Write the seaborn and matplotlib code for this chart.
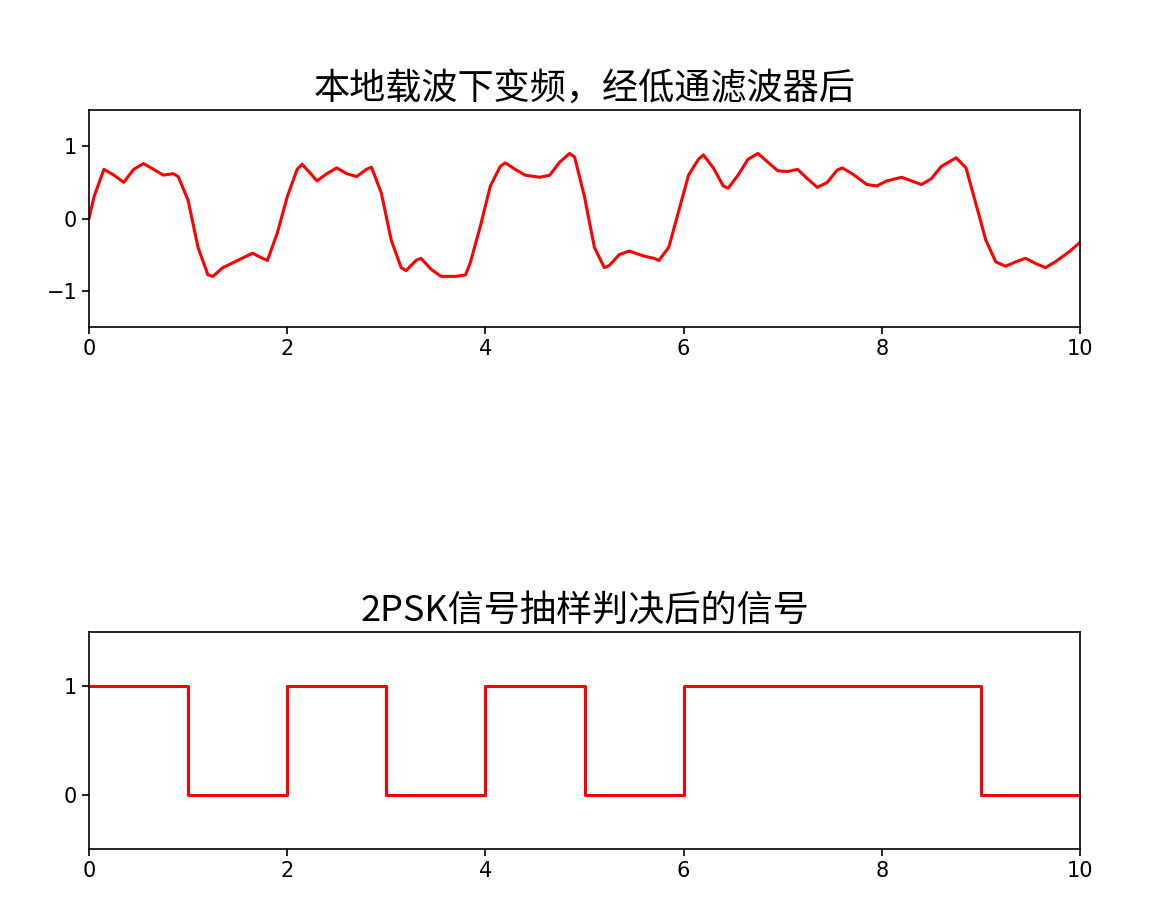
import matplotlib
matplotlib.use("Agg")
import matplotlib.pyplot as plt
import seaborn as sns

# top panel: demodulated signal after low-pass filter
t_filt = [0, 0.05, 0.15, 0.25, 0.35, 0.45, 0.55, 0.65, 0.75, 0.85, 0.9, 1.0, 1.1, 1.2, 1.25,
          1.35, 1.5, 1.65, 1.75, 1.8, 1.9, 2.0, 2.1, 2.15, 2.25, 2.3, 2.4, 2.5, 2.6, 2.7, 2.8,
          2.85, 2.95, 3.05, 3.15, 3.2, 3.3, 3.35, 3.45, 3.55, 3.7, 3.8, 3.85, 3.95, 4.05, 4.15,
          4.2, 4.3, 4.4, 4.55, 4.65, 4.75, 4.85, 4.9, 5.0, 5.1, 5.2, 5.25, 5.35, 5.45, 5.6, 5.7,
          5.75, 5.85, 5.95, 6.05, 6.15, 6.2, 6.3, 6.4, 6.45, 6.55, 6.65, 6.75, 6.85, 6.95, 7.05,
          7.15, 7.25, 7.35, 7.45, 7.55, 7.6, 7.7, 7.85, 7.95, 8.05, 8.2, 8.3, 8.4, 8.5, 8.6,
          8.75, 8.85, 8.95, 9.05, 9.15, 9.25, 9.35, 9.45, 9.55, 9.65, 9.75, 9.9, 10.0]
v_filt = [0, 0.3, 0.68, 0.6, 0.5, 0.68, 0.76, 0.68, 0.6, 0.62, 0.58, 0.25, -0.4, -0.78, -0.8,
          -0.68, -0.58, -0.48, -0.55, -0.58, -0.2, 0.3, 0.68, 0.75, 0.6, 0.52, 0.62, 0.7, 0.62,
          0.58, 0.68, 0.71, 0.35, -0.3, -0.68, -0.72, -0.58, -0.55, -0.7, -0.8, -0.8, -0.78,
          -0.6, -0.1, 0.45, 0.72, 0.77, 0.68, 0.6, 0.57, 0.6, 0.78, 0.9, 0.85, 0.3, -0.4, -0.68,
          -0.65, -0.5, -0.45, -0.52, -0.55, -0.58, -0.4, 0.1, 0.6, 0.82, 0.88, 0.7, 0.45, 0.42,
          0.6, 0.82, 0.9, 0.78, 0.66, 0.65, 0.68, 0.55, 0.43, 0.5, 0.67, 0.7, 0.62, 0.47, 0.45,
          0.52, 0.57, 0.52, 0.47, 0.55, 0.72, 0.84, 0.7, 0.2, -0.3, -0.6, -0.66, -0.6, -0.55,
          -0.62, -0.68, -0.6, -0.45, -0.33]

# bottom panel: sampled decision bits
t_bits = [0, 1, 2, 3, 4, 5, 6, 7, 8, 9, 10]
bits = [1, 0, 1, 0, 1, 0, 1, 1, 1, 0, 0]

sns.set_style("ticks", rc={'axes.edgecolor': 'black', 'xtick.color': 'black',
                           'ytick.color': 'black', 'text.color': 'black'})
plt.rcParams['font.family'] = ['DejaVu Sans']
cjk = ['Noto Sans CJK SC', 'DejaVu Sans']

fig = plt.figure(figsize=(11.52, 9.02), dpi=100)
ax1 = fig.add_axes([0.0773, 0.6375, 0.8602, 0.2405])
ax2 = fig.add_axes([0.0773, 0.0588, 0.8602, 0.2405])

sns.lineplot(x=t_filt, y=v_filt, ax=ax1, color='red', linewidth=2.2)
ax1.set_xlim(0, 10)
ax1.set_ylim(-1.5, 1.5)
ax1.set_yticks([-1, 0, 1])
ax1.set_title('本地载波下变频，经低通滤波器后', fontsize=26, family=cjk, pad=8, color='black')

ax2.step(t_bits, bits, where='post', color='red', linewidth=2.2)
ax2.set_xlim(0, 10)
ax2.set_ylim(-0.5, 1.5)
ax2.set_yticks([0, 1])
ax2.set_title('2PSK信号抽样判决后的信号', fontsize=26, family=cjk, pad=8, color='black')

for ax in (ax1, ax2):
    ax.set_xticks([0, 2, 4, 6, 8, 10])
    ax.tick_params(labelsize=15, width=1.2, length=5, colors='black')
    for lab in ax.get_xticklabels() + ax.get_yticklabels():
        lab.set_family('DejaVu Sans')
    for s in ax.spines.values():
        s.set_visible(True)
        s.set_linewidth(1.2)
        s.set_edgecolor('black')

fig.savefig('out.png', dpi=100)
